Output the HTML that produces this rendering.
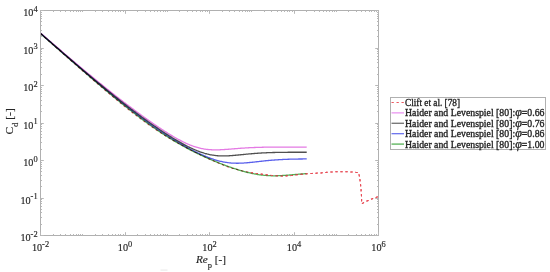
<!DOCTYPE html>
<html><head><meta charset="utf-8"><title>Drag coefficient</title>
<style>html,body{margin:0;padding:0;background:#fff;overflow:hidden}svg{display:block}</style>
</head><body>
<svg width="550" height="272" viewBox="0 0 550 272"><rect x="0" y="0" width="550" height="272" fill="#fff"/>
<polyline points="40.50,33.71 41.18,34.31 41.85,34.91 42.53,35.51 43.21,36.11 43.89,36.71 44.56,37.31 45.24,37.91 45.92,38.51 46.60,39.11 47.27,39.71 47.95,40.31 48.63,40.91 49.31,41.51 49.98,42.11 50.66,42.71 51.34,43.31 52.02,43.90 52.69,44.50 53.37,45.10 54.05,45.70 54.72,46.30 55.40,46.90 56.08,47.50 56.76,48.10 57.43,48.69 58.11,49.29 58.79,49.89 59.47,50.49 60.14,51.09 60.82,51.69 61.50,52.28 62.18,52.88 62.85,53.48 63.53,54.08 64.21,54.67 64.88,55.27 65.56,55.87 66.24,56.46 66.92,57.06 67.59,57.66 68.27,58.25 68.95,58.85 69.63,59.45 70.30,60.04 70.98,60.64 71.66,61.23 72.34,61.83 73.01,62.42 73.69,63.02 74.37,63.61 75.05,64.21 75.72,64.80 76.40,65.40 77.08,65.99 77.75,66.59 78.43,67.18 79.11,67.77 79.79,68.36 80.46,68.96 81.14,69.55 81.82,70.14 82.50,70.73 83.17,71.33 83.85,71.92 84.53,72.51 85.21,73.10 85.88,73.69 86.56,74.28 87.24,74.87 87.91,75.46 88.59,76.05 89.27,76.63 89.95,77.22 90.62,77.81 91.30,78.40 91.98,78.98 92.66,79.57 93.33,80.16 94.01,80.74 94.69,81.33 95.37,81.91 96.04,82.49 96.72,83.08 97.40,83.66 98.08,84.24 98.75,84.82 99.43,85.40 100.11,85.99 100.78,86.56 101.46,87.14 102.14,87.72 102.82,88.30 103.49,88.88 104.17,89.45 104.85,90.03 105.53,90.60 106.20,91.18 106.88,91.75 107.56,92.33 108.24,92.90 108.91,93.47 109.59,94.04 110.27,94.61 110.94,95.18 111.62,95.74 112.30,96.31 112.98,96.88 113.65,97.44 114.33,98.00 115.01,98.57 115.69,99.13 116.36,99.69 117.04,100.25 117.72,100.81 118.40,101.36 119.07,101.92 119.75,102.47 120.43,103.03 121.11,103.58 121.78,104.13 122.46,104.68 123.14,105.23 123.81,105.78 124.49,106.32 125.17,106.87 125.85,107.41 126.52,107.95 127.20,108.49 127.88,109.03 128.56,109.57 129.23,110.10 129.91,110.63 130.59,111.17 131.27,111.70 131.94,112.23 132.62,112.75 133.30,113.28 133.97,113.80 134.65,114.32 135.33,114.84 136.01,115.36 136.68,115.88 137.36,116.39 138.04,116.91 138.72,117.42 139.39,117.92 140.07,118.43 140.75,118.94 141.43,119.44 142.10,119.94 142.78,120.44 143.46,120.93 144.14,121.43 144.81,121.92 145.49,122.41 146.17,122.90 146.84,123.38 147.52,123.87 148.20,124.35 148.88,124.83 149.55,125.30 150.23,125.78 150.91,126.25 151.59,126.72 152.26,127.19 152.94,127.65 153.62,128.11 154.30,128.57 154.97,129.03 155.65,129.49 156.33,129.94 157.01,130.39 157.68,130.84 158.36,131.28 159.04,131.73 159.71,132.17 160.39,132.60 161.07,133.04 161.75,133.47 162.42,133.90 163.10,134.33 163.78,134.76 164.46,135.18 165.13,135.60 165.81,136.02 166.49,136.44 167.17,136.85 167.84,137.26 168.52,137.67 169.20,138.08 169.87,138.48 170.55,138.88 171.23,139.28 171.91,139.68 172.58,140.08 173.26,140.47 173.94,140.86 174.62,141.25 175.29,141.63 175.97,142.02 176.65,142.40 177.33,142.78 178.00,143.15 178.68,143.53 179.36,143.90 179.97,144.11 180.04,144.15 180.71,144.54 181.39,144.92 182.07,145.31 182.74,145.69 183.42,146.07 184.10,146.44 184.78,146.82 185.45,147.19 186.13,147.56 186.81,147.93 187.49,148.29 188.16,148.66 188.84,149.02 189.52,149.38 190.20,149.73 190.87,150.09 191.55,150.44 192.23,150.80 192.90,151.15 193.58,151.49 194.26,151.84 194.94,152.18 195.61,152.52 196.29,152.86 196.97,153.20 197.65,153.54 198.32,153.87 199.00,154.21 199.68,154.54 200.36,154.87 201.03,155.19 201.71,155.52 202.39,155.84 203.07,156.16 203.74,156.48 204.42,156.80 205.10,157.12 205.77,157.44 206.45,157.75 207.13,158.06 207.81,158.37 208.48,158.68 209.16,158.99 209.84,159.29 210.52,159.60 211.19,159.90 211.87,160.20 212.55,160.50 213.23,160.80 213.90,161.10 214.58,161.39 215.26,161.69 215.93,161.98 216.61,162.27 217.29,162.56 217.97,162.85 218.64,163.14 219.32,163.43 220.00,163.71 220.68,164.00 221.35,164.28 222.03,164.56 222.71,164.84 223.39,165.12 224.06,165.40 224.74,165.68 225.42,165.95 226.10,166.23 226.77,166.50 227.03,166.61 227.45,166.74 228.13,166.96 228.80,167.18 229.48,167.39 230.16,167.60 230.84,167.81 231.51,168.02 232.19,168.22 232.87,168.42 233.55,168.61 234.22,168.81 234.90,169.00 235.58,169.18 236.26,169.37 236.93,169.55 237.61,169.73 238.29,169.90 238.96,170.07 239.64,170.24 240.32,170.41 241.00,170.57 241.67,170.73 242.35,170.89 243.03,171.04 243.71,171.19 244.38,171.34 245.06,171.49 245.74,171.63 246.42,171.77 247.09,171.90 247.77,172.04 248.45,172.17 249.13,172.29 249.80,172.42 250.48,172.54 251.16,172.66 251.83,172.77 252.51,172.88 253.19,172.99 253.87,173.10 254.54,173.20 255.22,173.30 255.90,173.40 256.58,173.49 257.25,173.58 257.93,173.67 258.61,173.76 259.19,173.82 259.29,173.83 259.96,173.94 260.64,174.04 261.32,174.14 261.99,174.24 262.67,174.34 263.35,174.43 264.03,174.52 264.70,174.62 265.38,174.71 266.06,174.79 266.74,174.88 267.41,174.96 268.09,175.04 268.77,175.12 269.45,175.19 270.12,175.26 270.80,175.33 271.48,175.40 272.16,175.46 272.83,175.52 273.51,175.57 274.19,175.63 274.86,175.68 275.54,175.72 276.22,175.76 276.90,175.80 277.57,175.84 278.25,175.87 278.93,175.89 279.61,175.91 280.28,175.93 280.96,175.94 281.64,175.95 282.32,175.96 282.99,175.96 283.67,175.95 284.35,175.94 285.03,175.93 285.70,175.91 286.38,175.88 287.06,175.85 287.73,175.81 288.41,175.77 289.09,175.73 289.77,175.67 290.44,175.62 291.12,175.55 291.80,175.48 292.48,175.41 293.15,175.32 293.83,175.23 294.51,175.14 295.19,175.04 295.86,174.93 296.54,174.82 297.22,174.70 297.35,174.67 297.89,174.62 298.57,174.55 299.25,174.48 299.93,174.41 300.60,174.35 301.28,174.28 301.96,174.22 302.64,174.16 303.31,174.09 303.99,174.04 304.67,173.98 305.35,173.92 306.02,173.86 306.70,173.81 307.38,173.76 308.06,173.70 308.73,173.65 309.41,173.60 310.09,173.55 310.76,173.51 311.44,173.46 312.12,173.42 312.80,173.37 313.47,173.33 314.15,173.29 314.83,173.25 315.51,173.21 316.18,173.17 316.86,173.14 317.54,173.10 318.22,173.07 318.89,173.03 319.57,173.00 320.25,172.97 320.92,172.94 321.19,172.93 321.60,172.88 322.28,172.80 322.96,172.72 323.63,172.64 324.31,172.56 324.99,172.49 325.67,172.42 326.34,172.36 327.02,172.29 327.70,172.23 328.38,172.18 329.05,172.12 329.73,172.07 330.41,172.02 331.09,171.98 331.76,171.94 332.44,171.90 333.12,171.86 333.79,171.83 334.47,171.80 335.15,171.77 335.83,171.74 336.50,171.72 337.18,171.71 337.86,171.69 338.54,171.68 339.21,171.67 339.89,171.66 340.57,171.66 341.25,171.66 341.92,171.66 342.60,171.67 343.28,171.67 343.95,171.69 344.63,171.70 345.31,171.72 345.99,171.74 346.66,171.76 347.34,171.79 348.02,171.82 348.70,171.85 349.37,171.88 350.05,171.92 350.73,171.96 351.41,172.01 352.08,172.05 352.76,172.11 353.44,172.16 354.12,172.21 354.79,172.27 355.47,172.34 356.15,172.40 356.82,172.47 357.50,172.54 358.18,172.61 358.60,172.56 358.86,173.72 359.53,177.18 360.21,181.57 360.89,187.61 361.57,197.32 361.69,203.76 362.24,203.46 362.92,203.10 363.60,202.74 364.28,202.40 364.95,202.06 365.63,201.73 366.31,201.40 366.98,201.08 367.66,200.77 368.34,200.47 369.02,200.16 369.69,199.87 370.37,199.58 371.05,199.29 371.73,199.01 372.40,198.74 373.08,198.47 373.76,198.20 374.44,197.94 375.11,197.68 375.79,197.43 376.47,197.18 377.15,196.93 377.82,196.69 378.50,196.45" fill="none" stroke="#e84d57" stroke-width="1.05" stroke-dasharray="2.3,2.7"/>
<polyline points="40.50,33.59 41.39,34.38 42.28,35.16 43.17,35.95 44.06,36.73 44.95,37.52 45.84,38.30 46.73,39.09 47.62,39.87 48.51,40.66 49.40,41.44 50.29,42.22 51.18,43.01 52.07,43.79 52.97,44.57 53.86,45.36 54.75,46.14 55.64,46.92 56.53,47.70 57.42,48.49 58.31,49.27 59.20,50.05 60.09,50.83 60.98,51.61 61.87,52.39 62.76,53.17 63.65,53.95 64.54,54.73 65.43,55.51 66.32,56.29 67.21,57.07 68.10,57.85 68.99,58.63 69.88,59.40 70.77,60.18 71.66,60.96 72.55,61.73 73.44,62.51 74.33,63.29 75.22,64.06 76.11,64.83 77.00,65.61 77.90,66.38 78.79,67.16 79.68,67.93 80.57,68.70 81.46,69.47 82.35,70.24 83.24,71.01 84.13,71.78 85.02,72.55 85.91,73.32 86.80,74.09 87.69,74.85 88.58,75.62 89.47,76.39 90.36,77.15 91.25,77.91 92.14,78.68 93.03,79.44 93.92,80.20 94.81,80.96 95.70,81.72 96.59,82.48 97.48,83.24 98.37,84.00 99.26,84.75 100.15,85.51 101.04,86.26 101.94,87.01 102.83,87.77 103.72,88.52 104.61,89.27 105.50,90.01 106.39,90.76 107.28,91.51 108.17,92.25 109.06,93.00 109.95,93.74 110.84,94.48 111.73,95.22 112.62,95.95 113.51,96.69 114.40,97.42 115.29,98.16 116.18,98.89 117.07,99.62 117.96,100.35 118.85,101.07 119.74,101.80 120.63,102.52 121.52,103.24 122.41,103.96 123.30,104.68 124.19,105.39 125.08,106.11 125.97,106.82 126.87,107.53 127.76,108.23 128.65,108.94 129.54,109.64 130.43,110.34 131.32,111.04 132.21,111.73 133.10,112.42 133.99,113.11 134.88,113.80 135.77,114.49 136.66,115.17 137.55,115.85 138.44,116.53 139.33,117.20 140.22,117.87 141.11,118.54 142.00,119.20 142.89,119.87 143.78,120.53 144.67,121.18 145.56,121.84 146.45,122.49 147.34,123.13 148.23,123.78 149.12,124.42 150.01,125.05 150.91,125.69 151.80,126.32 152.69,126.95 153.58,127.57 154.47,128.19 155.36,128.80 156.25,129.42 157.14,130.03 158.03,130.63 158.92,131.23 159.81,131.83 160.70,132.42 161.59,133.01 162.48,133.60 163.37,134.18 164.26,134.76 165.15,135.34 166.04,135.91 166.93,136.47 167.82,137.04 168.71,137.59 169.60,138.15 170.49,138.70 171.38,139.25 172.27,139.79 173.16,140.33 174.05,140.86 174.94,141.39 175.84,141.92 176.73,142.44 177.62,142.96 178.51,143.48 179.40,143.99 180.29,144.49 181.18,145.00 182.07,145.50 182.96,145.99 183.85,146.48 184.74,146.97 185.63,147.45 186.52,147.93 187.41,148.40 188.30,148.88 189.19,149.34 190.08,149.81 190.97,150.27 191.86,150.72 192.75,151.18 193.64,151.62 194.53,152.07 195.42,152.51 196.31,152.95 197.20,153.38 198.09,153.81 198.98,154.24 199.87,154.66 200.77,155.08 201.66,155.50 202.55,155.91 203.44,156.32 204.33,156.73 205.22,157.13 206.11,157.53 207.00,157.93 207.89,158.32 208.78,158.71 209.67,159.10 210.56,159.48 211.45,159.86 212.34,160.24 213.23,160.61 214.12,160.99 215.01,161.35 215.90,161.72 216.79,162.08 217.68,162.44 218.57,162.79 219.46,163.15 220.35,163.50 221.24,163.84 222.13,164.18 223.02,164.52 223.91,164.86 224.81,165.19 225.70,165.52 226.59,165.85 227.48,166.17 228.37,166.49 229.26,166.81 230.15,167.12 231.04,167.43 231.93,167.74 232.82,168.04 233.71,168.34 234.60,168.63 235.49,168.92 236.38,169.21 237.27,169.49 238.16,169.77 239.05,170.04 239.94,170.31 240.83,170.58 241.72,170.84 242.61,171.09 243.50,171.34 244.39,171.58 245.28,171.82 246.17,172.06 247.06,172.28 247.95,172.50 248.84,172.72 249.74,172.93 250.63,173.13 251.52,173.33 252.41,173.52 253.30,173.70 254.19,173.88 255.08,174.05 255.97,174.21 256.86,174.36 257.75,174.51 258.64,174.65 259.53,174.78 260.42,174.90 261.31,175.02 262.20,175.12 263.09,175.22 263.98,175.31 264.87,175.40 265.76,175.47 266.65,175.54 267.54,175.60 268.43,175.65 269.32,175.69 270.21,175.72 271.10,175.75 271.99,175.77 272.88,175.78 273.78,175.79 274.67,175.79 275.56,175.78 276.45,175.76 277.34,175.74 278.23,175.72 279.12,175.68 280.01,175.65 280.90,175.60 281.79,175.56 282.68,175.50 283.57,175.45 284.46,175.39 285.35,175.33 286.24,175.26 287.13,175.19 288.02,175.12 288.91,175.05 289.80,174.98 290.69,174.90 291.58,174.82 292.47,174.75 293.36,174.67 294.25,174.59 295.14,174.51 296.03,174.44 296.92,174.36 297.81,174.28 298.71,174.21 299.60,174.13 300.49,174.06 301.38,173.99 302.27,173.92 303.16,173.85 304.05,173.78 304.94,173.72 305.83,173.66 306.72,173.60" fill="none" stroke="#55b055" stroke-width="1.3" style="mix-blend-mode:multiply"/>
<polyline points="40.50,32.95 41.39,33.73 42.28,34.50 43.17,35.27 44.06,36.04 44.95,36.81 45.84,37.58 46.73,38.35 47.62,39.12 48.51,39.89 49.40,40.66 50.29,41.43 51.18,42.20 52.07,42.97 52.97,43.73 53.86,44.50 54.75,45.27 55.64,46.03 56.53,46.80 57.42,47.56 58.31,48.33 59.20,49.09 60.09,49.85 60.98,50.61 61.87,51.38 62.76,52.14 63.65,52.90 64.54,53.66 65.43,54.42 66.32,55.18 67.21,55.93 68.10,56.69 68.99,57.45 69.88,58.20 70.77,58.96 71.66,59.71 72.55,60.47 73.44,61.22 74.33,61.97 75.22,62.72 76.11,63.48 77.00,64.23 77.90,64.97 78.79,65.72 79.68,66.47 80.57,67.22 81.46,67.96 82.35,68.71 83.24,69.45 84.13,70.19 85.02,70.94 85.91,71.68 86.80,72.42 87.69,73.16 88.58,73.90 89.47,74.63 90.36,75.37 91.25,76.10 92.14,76.84 93.03,77.57 93.92,78.30 94.81,79.03 95.70,79.76 96.59,80.49 97.48,81.22 98.37,81.94 99.26,82.67 100.15,83.39 101.04,84.12 101.94,84.84 102.83,85.56 103.72,86.28 104.61,86.99 105.50,87.71 106.39,88.42 107.28,89.14 108.17,89.85 109.06,90.56 109.95,91.27 110.84,91.98 111.73,92.68 112.62,93.39 113.51,94.09 114.40,94.79 115.29,95.49 116.18,96.19 117.07,96.89 117.96,97.58 118.85,98.28 119.74,98.97 120.63,99.66 121.52,100.35 122.41,101.04 123.30,101.72 124.19,102.40 125.08,103.09 125.97,103.77 126.87,104.45 127.76,105.12 128.65,105.80 129.54,106.47 130.43,107.14 131.32,107.81 132.21,108.48 133.10,109.14 133.99,109.81 134.88,110.47 135.77,111.13 136.66,111.78 137.55,112.44 138.44,113.09 139.33,113.74 140.22,114.39 141.11,115.04 142.00,115.68 142.89,116.32 143.78,116.96 144.67,117.60 145.56,118.24 146.45,118.87 147.34,119.50 148.23,120.13 149.12,120.76 150.01,121.38 150.91,122.00 151.80,122.62 152.69,123.23 153.58,123.84 154.47,124.45 155.36,125.06 156.25,125.66 157.14,126.26 158.03,126.86 158.92,127.46 159.81,128.05 160.70,128.64 161.59,129.22 162.48,129.80 163.37,130.38 164.26,130.95 165.15,131.52 166.04,132.08 166.93,132.65 167.82,133.20 168.71,133.75 169.60,134.30 170.49,134.84 171.38,135.38 172.27,135.91 173.16,136.44 174.05,136.96 174.94,137.47 175.84,137.98 176.73,138.48 177.62,138.98 178.51,139.46 179.40,139.94 180.29,140.41 181.18,140.88 182.07,141.33 182.96,141.78 183.85,142.22 184.74,142.65 185.63,143.06 186.52,143.47 187.41,143.87 188.30,144.26 189.19,144.63 190.08,145.00 190.97,145.35 191.86,145.69 192.75,146.01 193.64,146.33 194.53,146.63 195.42,146.92 196.31,147.19 197.20,147.45 198.09,147.70 198.98,147.93 199.87,148.15 200.77,148.36 201.66,148.55 202.55,148.73 203.44,148.89 204.33,149.04 205.22,149.18 206.11,149.30 207.00,149.41 207.89,149.50 208.78,149.59 209.67,149.66 210.56,149.72 211.45,149.77 212.34,149.81 213.23,149.83 214.12,149.85 215.01,149.86 215.90,149.86 216.79,149.85 217.68,149.84 218.57,149.81 219.46,149.78 220.35,149.75 221.24,149.71 222.13,149.66 223.02,149.61 223.91,149.56 224.81,149.50 225.70,149.44 226.59,149.37 227.48,149.31 228.37,149.24 229.26,149.17 230.15,149.10 231.04,149.03 231.93,148.96 232.82,148.88 233.71,148.81 234.60,148.74 235.49,148.67 236.38,148.60 237.27,148.53 238.16,148.46 239.05,148.40 239.94,148.33 240.83,148.27 241.72,148.21 242.61,148.15 243.50,148.09 244.39,148.03 245.28,147.97 246.17,147.92 247.06,147.87 247.95,147.82 248.84,147.77 249.74,147.72 250.63,147.68 251.52,147.64 252.41,147.60 253.30,147.56 254.19,147.52 255.08,147.49 255.97,147.45 256.86,147.42 257.75,147.39 258.64,147.36 259.53,147.34 260.42,147.31 261.31,147.29 262.20,147.27 263.09,147.24 263.98,147.22 264.87,147.21 265.76,147.19 266.65,147.17 267.54,147.16 268.43,147.14 269.32,147.13 270.21,147.12 271.10,147.11 271.99,147.10 272.88,147.09 273.78,147.08 274.67,147.07 275.56,147.07 276.45,147.06 277.34,147.05 278.23,147.05 279.12,147.04 280.01,147.04 280.90,147.04 281.79,147.03 282.68,147.03 283.57,147.03 284.46,147.03 285.35,147.03 286.24,147.03 287.13,147.03 288.02,147.03 288.91,147.03 289.80,147.03 290.69,147.03 291.58,147.03 292.47,147.03 293.36,147.03 294.25,147.04 295.14,147.04 296.03,147.04 296.92,147.04 297.81,147.05 298.71,147.05 299.60,147.05 300.49,147.05 301.38,147.06 302.27,147.06 303.16,147.06 304.05,147.07 304.94,147.07 305.83,147.07 306.72,147.08" fill="none" stroke="#e47ae4" stroke-width="1.3" style="mix-blend-mode:multiply"/>
<polyline points="40.50,33.46 41.39,34.25 42.28,35.03 43.17,35.81 44.06,36.59 44.95,37.37 45.84,38.16 46.73,38.94 47.62,39.72 48.51,40.50 49.40,41.28 50.29,42.06 51.18,42.84 52.07,43.62 52.97,44.40 53.86,45.18 54.75,45.95 55.64,46.73 56.53,47.51 57.42,48.29 58.31,49.06 59.20,49.84 60.09,50.62 60.98,51.39 61.87,52.17 62.76,52.95 63.65,53.72 64.54,54.49 65.43,55.27 66.32,56.04 67.21,56.82 68.10,57.59 68.99,58.36 69.88,59.13 70.77,59.90 71.66,60.67 72.55,61.44 73.44,62.21 74.33,62.98 75.22,63.75 76.11,64.52 77.00,65.29 77.90,66.05 78.79,66.82 79.68,67.58 80.57,68.35 81.46,69.11 82.35,69.88 83.24,70.64 84.13,71.40 85.02,72.16 85.91,72.92 86.80,73.68 87.69,74.44 88.58,75.20 89.47,75.96 90.36,76.71 91.25,77.47 92.14,78.22 93.03,78.97 93.92,79.73 94.81,80.48 95.70,81.23 96.59,81.98 97.48,82.73 98.37,83.47 99.26,84.22 100.15,84.97 101.04,85.71 101.94,86.45 102.83,87.20 103.72,87.94 104.61,88.67 105.50,89.41 106.39,90.15 107.28,90.88 108.17,91.62 109.06,92.35 109.95,93.08 110.84,93.81 111.73,94.54 112.62,95.27 113.51,95.99 114.40,96.72 115.29,97.44 116.18,98.16 117.07,98.88 117.96,99.59 118.85,100.31 119.74,101.02 120.63,101.73 121.52,102.44 122.41,103.15 123.30,103.86 124.19,104.56 125.08,105.26 125.97,105.96 126.87,106.66 127.76,107.36 128.65,108.05 129.54,108.74 130.43,109.43 131.32,110.12 132.21,110.81 133.10,111.49 133.99,112.17 134.88,112.85 135.77,113.52 136.66,114.20 137.55,114.87 138.44,115.54 139.33,116.20 140.22,116.87 141.11,117.53 142.00,118.18 142.89,118.84 143.78,119.49 144.67,120.14 145.56,120.79 146.45,121.43 147.34,122.08 148.23,122.72 149.12,123.35 150.01,123.98 150.91,124.61 151.80,125.24 152.69,125.87 153.58,126.49 154.47,127.11 155.36,127.72 156.25,128.33 157.14,128.94 158.03,129.55 158.92,130.15 159.81,130.75 160.70,131.35 161.59,131.94 162.48,132.53 163.37,133.11 164.26,133.70 165.15,134.28 166.04,134.85 166.93,135.43 167.82,135.99 168.71,136.56 169.60,137.12 170.49,137.68 171.38,138.24 172.27,138.79 173.16,139.34 174.05,139.88 174.94,140.42 175.84,140.96 176.73,141.49 177.62,142.02 178.51,142.55 179.40,143.07 180.29,143.59 181.18,144.10 182.07,144.61 182.96,145.12 183.85,145.62 184.74,146.12 185.63,146.61 186.52,147.10 187.41,147.59 188.30,148.07 189.19,148.55 190.08,149.02 190.97,149.48 191.86,149.95 192.75,150.40 193.64,150.86 194.53,151.30 195.42,151.75 196.31,152.18 197.20,152.61 198.09,153.04 198.98,153.46 199.87,153.87 200.77,154.28 201.66,154.68 202.55,155.08 203.44,155.47 204.33,155.85 205.22,156.22 206.11,156.59 207.00,156.95 207.89,157.30 208.78,157.64 209.67,157.98 210.56,158.31 211.45,158.62 212.34,158.93 213.23,159.23 214.12,159.52 215.01,159.81 215.90,160.08 216.79,160.34 217.68,160.59 218.57,160.83 219.46,161.06 220.35,161.27 221.24,161.48 222.13,161.67 223.02,161.86 223.91,162.03 224.81,162.19 225.70,162.34 226.59,162.48 227.48,162.60 228.37,162.72 229.26,162.82 230.15,162.91 231.04,162.99 231.93,163.05 232.82,163.11 233.71,163.16 234.60,163.19 235.49,163.21 236.38,163.23 237.27,163.23 238.16,163.23 239.05,163.21 239.94,163.19 240.83,163.16 241.72,163.12 242.61,163.08 243.50,163.03 244.39,162.97 245.28,162.90 246.17,162.83 247.06,162.76 247.95,162.68 248.84,162.59 249.74,162.51 250.63,162.42 251.52,162.32 252.41,162.23 253.30,162.13 254.19,162.03 255.08,161.93 255.97,161.83 256.86,161.73 257.75,161.63 258.64,161.53 259.53,161.43 260.42,161.33 261.31,161.23 262.20,161.13 263.09,161.04 263.98,160.94 264.87,160.85 265.76,160.76 266.65,160.67 267.54,160.58 268.43,160.50 269.32,160.42 270.21,160.34 271.10,160.26 271.99,160.19 272.88,160.12 273.78,160.05 274.67,159.98 275.56,159.91 276.45,159.85 277.34,159.79 278.23,159.74 279.12,159.68 280.01,159.63 280.90,159.58 281.79,159.53 282.68,159.49 283.57,159.45 284.46,159.41 285.35,159.37 286.24,159.33 287.13,159.30 288.02,159.27 288.91,159.24 289.80,159.21 290.69,159.18 291.58,159.16 292.47,159.13 293.36,159.11 294.25,159.09 295.14,159.08 296.03,159.06 296.92,159.04 297.81,159.03 298.71,159.02 299.60,159.00 300.49,158.99 301.38,158.99 302.27,158.98 303.16,158.97 304.05,158.96 304.94,158.96 305.83,158.95 306.72,158.95" fill="none" stroke="#5a60ec" stroke-width="1.3" style="mix-blend-mode:multiply"/>
<polyline points="40.50,33.28 41.39,34.06 42.28,34.84 43.17,35.62 44.06,36.40 44.95,37.17 45.84,37.95 46.73,38.73 47.62,39.51 48.51,40.28 49.40,41.06 50.29,41.83 51.18,42.61 52.07,43.38 52.97,44.16 53.86,44.93 54.75,45.71 55.64,46.48 56.53,47.25 57.42,48.02 58.31,48.80 59.20,49.57 60.09,50.34 60.98,51.11 61.87,51.88 62.76,52.65 63.65,53.42 64.54,54.19 65.43,54.95 66.32,55.72 67.21,56.49 68.10,57.26 68.99,58.02 69.88,58.79 70.77,59.55 71.66,60.32 72.55,61.08 73.44,61.84 74.33,62.60 75.22,63.37 76.11,64.13 77.00,64.89 77.90,65.65 78.79,66.40 79.68,67.16 80.57,67.92 81.46,68.68 82.35,69.43 83.24,70.19 84.13,70.94 85.02,71.69 85.91,72.45 86.80,73.20 87.69,73.95 88.58,74.70 89.47,75.45 90.36,76.19 91.25,76.94 92.14,77.69 93.03,78.43 93.92,79.18 94.81,79.92 95.70,80.66 96.59,81.40 97.48,82.14 98.37,82.88 99.26,83.62 100.15,84.35 101.04,85.09 101.94,85.82 102.83,86.55 103.72,87.28 104.61,88.01 105.50,88.74 106.39,89.47 107.28,90.19 108.17,90.92 109.06,91.64 109.95,92.36 110.84,93.08 111.73,93.80 112.62,94.52 113.51,95.23 114.40,95.95 115.29,96.66 116.18,97.37 117.07,98.08 117.96,98.79 118.85,99.49 119.74,100.20 120.63,100.90 121.52,101.60 122.41,102.30 123.30,103.00 124.19,103.69 125.08,104.38 125.97,105.08 126.87,105.76 127.76,106.45 128.65,107.14 129.54,107.82 130.43,108.50 131.32,109.18 132.21,109.86 133.10,110.53 133.99,111.21 134.88,111.88 135.77,112.55 136.66,113.21 137.55,113.88 138.44,114.54 139.33,115.20 140.22,115.86 141.11,116.51 142.00,117.16 142.89,117.81 143.78,118.46 144.67,119.11 145.56,119.75 146.45,120.39 147.34,121.03 148.23,121.66 149.12,122.29 150.01,122.92 150.91,123.55 151.80,124.18 152.69,124.80 153.58,125.42 154.47,126.03 155.36,126.65 156.25,127.26 157.14,127.86 158.03,128.47 158.92,129.07 159.81,129.67 160.70,130.26 161.59,130.85 162.48,131.44 163.37,132.03 164.26,132.61 165.15,133.19 166.04,133.76 166.93,134.34 167.82,134.90 168.71,135.47 169.60,136.03 170.49,136.59 171.38,137.14 172.27,137.69 173.16,138.23 174.05,138.77 174.94,139.31 175.84,139.84 176.73,140.37 177.62,140.89 178.51,141.41 179.40,141.92 180.29,142.43 181.18,142.93 182.07,143.42 182.96,143.91 183.85,144.40 184.74,144.87 185.63,145.34 186.52,145.81 187.41,146.27 188.30,146.72 189.19,147.16 190.08,147.59 190.97,148.02 191.86,148.44 192.75,148.85 193.64,149.25 194.53,149.64 195.42,150.02 196.31,150.40 197.20,150.76 198.09,151.11 198.98,151.45 199.87,151.78 200.77,152.10 201.66,152.41 202.55,152.70 203.44,152.98 204.33,153.25 205.22,153.51 206.11,153.75 207.00,153.99 207.89,154.20 208.78,154.41 209.67,154.60 210.56,154.78 211.45,154.94 212.34,155.10 213.23,155.23 214.12,155.36 215.01,155.47 215.90,155.57 216.79,155.66 217.68,155.73 218.57,155.80 219.46,155.85 220.35,155.89 221.24,155.91 222.13,155.93 223.02,155.94 223.91,155.94 224.81,155.93 225.70,155.91 226.59,155.88 227.48,155.84 228.37,155.80 229.26,155.75 230.15,155.70 231.04,155.64 231.93,155.57 232.82,155.50 233.71,155.43 234.60,155.35 235.49,155.27 236.38,155.19 237.27,155.11 238.16,155.02 239.05,154.93 239.94,154.84 240.83,154.76 241.72,154.67 242.61,154.58 243.50,154.49 244.39,154.40 245.28,154.31 246.17,154.22 247.06,154.14 247.95,154.05 248.84,153.97 249.74,153.89 250.63,153.81 251.52,153.73 252.41,153.66 253.30,153.58 254.19,153.51 255.08,153.44 255.97,153.38 256.86,153.31 257.75,153.25 258.64,153.19 259.53,153.13 260.42,153.08 261.31,153.02 262.20,152.97 263.09,152.93 263.98,152.88 264.87,152.83 265.76,152.79 266.65,152.75 267.54,152.71 268.43,152.68 269.32,152.64 270.21,152.61 271.10,152.58 271.99,152.55 272.88,152.52 273.78,152.50 274.67,152.48 275.56,152.45 276.45,152.43 277.34,152.41 278.23,152.39 279.12,152.38 280.01,152.36 280.90,152.35 281.79,152.33 282.68,152.32 283.57,152.31 284.46,152.30 285.35,152.29 286.24,152.28 287.13,152.28 288.02,152.27 288.91,152.26 289.80,152.26 290.69,152.25 291.58,152.25 292.47,152.25 293.36,152.24 294.25,152.24 295.14,152.24 296.03,152.24 296.92,152.24 297.81,152.24 298.71,152.24 299.60,152.24 300.49,152.24 301.38,152.24 302.27,152.24 303.16,152.25 304.05,152.25 304.94,152.25 305.83,152.25 306.72,152.26" fill="none" stroke="#505050" stroke-width="1.3" style="mix-blend-mode:multiply"/>
<clipPath id="cr"><rect x="250" y="0" width="200" height="272"/></clipPath>
<g clip-path="url(#cr)"><polyline points="40.50,33.71 41.18,34.31 41.85,34.91 42.53,35.51 43.21,36.11 43.89,36.71 44.56,37.31 45.24,37.91 45.92,38.51 46.60,39.11 47.27,39.71 47.95,40.31 48.63,40.91 49.31,41.51 49.98,42.11 50.66,42.71 51.34,43.31 52.02,43.90 52.69,44.50 53.37,45.10 54.05,45.70 54.72,46.30 55.40,46.90 56.08,47.50 56.76,48.10 57.43,48.69 58.11,49.29 58.79,49.89 59.47,50.49 60.14,51.09 60.82,51.69 61.50,52.28 62.18,52.88 62.85,53.48 63.53,54.08 64.21,54.67 64.88,55.27 65.56,55.87 66.24,56.46 66.92,57.06 67.59,57.66 68.27,58.25 68.95,58.85 69.63,59.45 70.30,60.04 70.98,60.64 71.66,61.23 72.34,61.83 73.01,62.42 73.69,63.02 74.37,63.61 75.05,64.21 75.72,64.80 76.40,65.40 77.08,65.99 77.75,66.59 78.43,67.18 79.11,67.77 79.79,68.36 80.46,68.96 81.14,69.55 81.82,70.14 82.50,70.73 83.17,71.33 83.85,71.92 84.53,72.51 85.21,73.10 85.88,73.69 86.56,74.28 87.24,74.87 87.91,75.46 88.59,76.05 89.27,76.63 89.95,77.22 90.62,77.81 91.30,78.40 91.98,78.98 92.66,79.57 93.33,80.16 94.01,80.74 94.69,81.33 95.37,81.91 96.04,82.49 96.72,83.08 97.40,83.66 98.08,84.24 98.75,84.82 99.43,85.40 100.11,85.99 100.78,86.56 101.46,87.14 102.14,87.72 102.82,88.30 103.49,88.88 104.17,89.45 104.85,90.03 105.53,90.60 106.20,91.18 106.88,91.75 107.56,92.33 108.24,92.90 108.91,93.47 109.59,94.04 110.27,94.61 110.94,95.18 111.62,95.74 112.30,96.31 112.98,96.88 113.65,97.44 114.33,98.00 115.01,98.57 115.69,99.13 116.36,99.69 117.04,100.25 117.72,100.81 118.40,101.36 119.07,101.92 119.75,102.47 120.43,103.03 121.11,103.58 121.78,104.13 122.46,104.68 123.14,105.23 123.81,105.78 124.49,106.32 125.17,106.87 125.85,107.41 126.52,107.95 127.20,108.49 127.88,109.03 128.56,109.57 129.23,110.10 129.91,110.63 130.59,111.17 131.27,111.70 131.94,112.23 132.62,112.75 133.30,113.28 133.97,113.80 134.65,114.32 135.33,114.84 136.01,115.36 136.68,115.88 137.36,116.39 138.04,116.91 138.72,117.42 139.39,117.92 140.07,118.43 140.75,118.94 141.43,119.44 142.10,119.94 142.78,120.44 143.46,120.93 144.14,121.43 144.81,121.92 145.49,122.41 146.17,122.90 146.84,123.38 147.52,123.87 148.20,124.35 148.88,124.83 149.55,125.30 150.23,125.78 150.91,126.25 151.59,126.72 152.26,127.19 152.94,127.65 153.62,128.11 154.30,128.57 154.97,129.03 155.65,129.49 156.33,129.94 157.01,130.39 157.68,130.84 158.36,131.28 159.04,131.73 159.71,132.17 160.39,132.60 161.07,133.04 161.75,133.47 162.42,133.90 163.10,134.33 163.78,134.76 164.46,135.18 165.13,135.60 165.81,136.02 166.49,136.44 167.17,136.85 167.84,137.26 168.52,137.67 169.20,138.08 169.87,138.48 170.55,138.88 171.23,139.28 171.91,139.68 172.58,140.08 173.26,140.47 173.94,140.86 174.62,141.25 175.29,141.63 175.97,142.02 176.65,142.40 177.33,142.78 178.00,143.15 178.68,143.53 179.36,143.90 179.97,144.11 180.04,144.15 180.71,144.54 181.39,144.92 182.07,145.31 182.74,145.69 183.42,146.07 184.10,146.44 184.78,146.82 185.45,147.19 186.13,147.56 186.81,147.93 187.49,148.29 188.16,148.66 188.84,149.02 189.52,149.38 190.20,149.73 190.87,150.09 191.55,150.44 192.23,150.80 192.90,151.15 193.58,151.49 194.26,151.84 194.94,152.18 195.61,152.52 196.29,152.86 196.97,153.20 197.65,153.54 198.32,153.87 199.00,154.21 199.68,154.54 200.36,154.87 201.03,155.19 201.71,155.52 202.39,155.84 203.07,156.16 203.74,156.48 204.42,156.80 205.10,157.12 205.77,157.44 206.45,157.75 207.13,158.06 207.81,158.37 208.48,158.68 209.16,158.99 209.84,159.29 210.52,159.60 211.19,159.90 211.87,160.20 212.55,160.50 213.23,160.80 213.90,161.10 214.58,161.39 215.26,161.69 215.93,161.98 216.61,162.27 217.29,162.56 217.97,162.85 218.64,163.14 219.32,163.43 220.00,163.71 220.68,164.00 221.35,164.28 222.03,164.56 222.71,164.84 223.39,165.12 224.06,165.40 224.74,165.68 225.42,165.95 226.10,166.23 226.77,166.50 227.03,166.61 227.45,166.74 228.13,166.96 228.80,167.18 229.48,167.39 230.16,167.60 230.84,167.81 231.51,168.02 232.19,168.22 232.87,168.42 233.55,168.61 234.22,168.81 234.90,169.00 235.58,169.18 236.26,169.37 236.93,169.55 237.61,169.73 238.29,169.90 238.96,170.07 239.64,170.24 240.32,170.41 241.00,170.57 241.67,170.73 242.35,170.89 243.03,171.04 243.71,171.19 244.38,171.34 245.06,171.49 245.74,171.63 246.42,171.77 247.09,171.90 247.77,172.04 248.45,172.17 249.13,172.29 249.80,172.42 250.48,172.54 251.16,172.66 251.83,172.77 252.51,172.88 253.19,172.99 253.87,173.10 254.54,173.20 255.22,173.30 255.90,173.40 256.58,173.49 257.25,173.58 257.93,173.67 258.61,173.76 259.19,173.82 259.29,173.83 259.96,173.94 260.64,174.04 261.32,174.14 261.99,174.24 262.67,174.34 263.35,174.43 264.03,174.52 264.70,174.62 265.38,174.71 266.06,174.79 266.74,174.88 267.41,174.96 268.09,175.04 268.77,175.12 269.45,175.19 270.12,175.26 270.80,175.33 271.48,175.40 272.16,175.46 272.83,175.52 273.51,175.57 274.19,175.63 274.86,175.68 275.54,175.72 276.22,175.76 276.90,175.80 277.57,175.84 278.25,175.87 278.93,175.89 279.61,175.91 280.28,175.93 280.96,175.94 281.64,175.95 282.32,175.96 282.99,175.96 283.67,175.95 284.35,175.94 285.03,175.93 285.70,175.91 286.38,175.88 287.06,175.85 287.73,175.81 288.41,175.77 289.09,175.73 289.77,175.67 290.44,175.62 291.12,175.55 291.80,175.48 292.48,175.41 293.15,175.32 293.83,175.23 294.51,175.14 295.19,175.04 295.86,174.93 296.54,174.82 297.22,174.70 297.35,174.67 297.89,174.62 298.57,174.55 299.25,174.48 299.93,174.41 300.60,174.35 301.28,174.28 301.96,174.22 302.64,174.16 303.31,174.09 303.99,174.04 304.67,173.98 305.35,173.92 306.02,173.86 306.70,173.81 307.38,173.76 308.06,173.70 308.73,173.65 309.41,173.60 310.09,173.55 310.76,173.51 311.44,173.46 312.12,173.42 312.80,173.37 313.47,173.33 314.15,173.29 314.83,173.25 315.51,173.21 316.18,173.17 316.86,173.14 317.54,173.10 318.22,173.07 318.89,173.03 319.57,173.00 320.25,172.97 320.92,172.94 321.19,172.93 321.60,172.88 322.28,172.80 322.96,172.72 323.63,172.64 324.31,172.56 324.99,172.49 325.67,172.42 326.34,172.36 327.02,172.29 327.70,172.23 328.38,172.18 329.05,172.12 329.73,172.07 330.41,172.02 331.09,171.98 331.76,171.94 332.44,171.90 333.12,171.86 333.79,171.83 334.47,171.80 335.15,171.77 335.83,171.74 336.50,171.72 337.18,171.71 337.86,171.69 338.54,171.68 339.21,171.67 339.89,171.66 340.57,171.66 341.25,171.66 341.92,171.66 342.60,171.67 343.28,171.67 343.95,171.69 344.63,171.70 345.31,171.72 345.99,171.74 346.66,171.76 347.34,171.79 348.02,171.82 348.70,171.85 349.37,171.88 350.05,171.92 350.73,171.96 351.41,172.01 352.08,172.05 352.76,172.11 353.44,172.16 354.12,172.21 354.79,172.27 355.47,172.34 356.15,172.40 356.82,172.47 357.50,172.54 358.18,172.61 358.60,172.56 358.86,173.72 359.53,177.18 360.21,181.57 360.89,187.61 361.57,197.32 361.69,203.76 362.24,203.46 362.92,203.10 363.60,202.74 364.28,202.40 364.95,202.06 365.63,201.73 366.31,201.40 366.98,201.08 367.66,200.77 368.34,200.47 369.02,200.16 369.69,199.87 370.37,199.58 371.05,199.29 371.73,199.01 372.40,198.74 373.08,198.47 373.76,198.20 374.44,197.94 375.11,197.68 375.79,197.43 376.47,197.18 377.15,196.93 377.82,196.69 378.50,196.45" fill="none" stroke="#e84d57" stroke-width="1.05" stroke-dasharray="2.3,2.7"/></g>
<rect x="40.5" y="10.5" width="338.0" height="225.0" fill="none" stroke="#b0b0b0" stroke-width="1"/>
<path d="M40.50,235.5v-3.3M40.50,10.5v3.3M53.50,235.5v-1.5M53.50,10.5v1.5M60.50,235.5v-1.5M60.50,10.5v1.5M65.50,235.5v-1.5M65.50,10.5v1.5M70.50,235.5v-1.5M70.50,10.5v1.5M73.50,235.5v-1.5M73.50,10.5v1.5M76.50,235.5v-1.5M76.50,10.5v1.5M78.50,235.5v-1.5M78.50,10.5v1.5M80.50,235.5v-1.5M80.50,10.5v1.5M82.50,235.5v-1.5M82.50,10.5v1.5M95.50,235.5v-1.5M95.50,10.5v1.5M102.50,235.5v-1.5M102.50,10.5v1.5M108.50,235.5v-1.5M108.50,10.5v1.5M112.50,235.5v-1.5M112.50,10.5v1.5M115.50,235.5v-1.5M115.50,10.5v1.5M118.50,235.5v-1.5M118.50,10.5v1.5M120.50,235.5v-1.5M120.50,10.5v1.5M123.50,235.5v-1.5M123.50,10.5v1.5M125.50,235.5v-3.3M125.50,10.5v3.3M137.50,235.5v-1.5M137.50,10.5v1.5M145.50,235.5v-1.5M145.50,10.5v1.5M150.50,235.5v-1.5M150.50,10.5v1.5M154.50,235.5v-1.5M154.50,10.5v1.5M157.50,235.5v-1.5M157.50,10.5v1.5M160.50,235.5v-1.5M160.50,10.5v1.5M163.50,235.5v-1.5M163.50,10.5v1.5M165.50,235.5v-1.5M165.50,10.5v1.5M167.50,235.5v-1.5M167.50,10.5v1.5M179.50,235.5v-1.5M179.50,10.5v1.5M187.50,235.5v-1.5M187.50,10.5v1.5M192.50,235.5v-1.5M192.50,10.5v1.5M196.50,235.5v-1.5M196.50,10.5v1.5M200.50,235.5v-1.5M200.50,10.5v1.5M202.50,235.5v-1.5M202.50,10.5v1.5M205.50,235.5v-1.5M205.50,10.5v1.5M207.50,235.5v-1.5M207.50,10.5v1.5M209.50,235.5v-3.3M209.50,10.5v3.3M222.50,235.5v-1.5M222.50,10.5v1.5M229.50,235.5v-1.5M229.50,10.5v1.5M234.50,235.5v-1.5M234.50,10.5v1.5M239.50,235.5v-1.5M239.50,10.5v1.5M242.50,235.5v-1.5M242.50,10.5v1.5M245.50,235.5v-1.5M245.50,10.5v1.5M247.50,235.5v-1.5M247.50,10.5v1.5M249.50,235.5v-1.5M249.50,10.5v1.5M251.50,235.5v-1.5M251.50,10.5v1.5M264.50,235.5v-1.5M264.50,10.5v1.5M271.50,235.5v-1.5M271.50,10.5v1.5M277.50,235.5v-1.5M277.50,10.5v1.5M281.50,235.5v-1.5M281.50,10.5v1.5M284.50,235.5v-1.5M284.50,10.5v1.5M287.50,235.5v-1.5M287.50,10.5v1.5M289.50,235.5v-1.5M289.50,10.5v1.5M292.50,235.5v-1.5M292.50,10.5v1.5M294.50,235.5v-3.3M294.50,10.5v3.3M306.50,235.5v-1.5M306.50,10.5v1.5M314.50,235.5v-1.5M314.50,10.5v1.5M319.50,235.5v-1.5M319.50,10.5v1.5M323.50,235.5v-1.5M323.50,10.5v1.5M326.50,235.5v-1.5M326.50,10.5v1.5M329.50,235.5v-1.5M329.50,10.5v1.5M332.50,235.5v-1.5M332.50,10.5v1.5M334.50,235.5v-1.5M334.50,10.5v1.5M336.50,235.5v-1.5M336.50,10.5v1.5M348.50,235.5v-1.5M348.50,10.5v1.5M356.50,235.5v-1.5M356.50,10.5v1.5M361.50,235.5v-1.5M361.50,10.5v1.5M365.50,235.5v-1.5M365.50,10.5v1.5M369.50,235.5v-1.5M369.50,10.5v1.5M371.50,235.5v-1.5M371.50,10.5v1.5M374.50,235.5v-1.5M374.50,10.5v1.5M376.50,235.5v-1.5M376.50,10.5v1.5M378.50,235.5v-3.3M378.50,10.5v3.3M40.5,235.50h3.3M378.5,235.50h-3.3M40.5,224.50h1.5M378.5,224.50h-1.5M40.5,217.50h1.5M378.5,217.50h-1.5M40.5,212.50h1.5M378.5,212.50h-1.5M40.5,209.50h1.5M378.5,209.50h-1.5M40.5,206.50h1.5M378.5,206.50h-1.5M40.5,203.50h1.5M378.5,203.50h-1.5M40.5,201.50h1.5M378.5,201.50h-1.5M40.5,199.50h1.5M378.5,199.50h-1.5M40.5,198.50h3.3M378.5,198.50h-3.3M40.5,186.50h1.5M378.5,186.50h-1.5M40.5,180.50h1.5M378.5,180.50h-1.5M40.5,175.50h1.5M378.5,175.50h-1.5M40.5,171.50h1.5M378.5,171.50h-1.5M40.5,168.50h1.5M378.5,168.50h-1.5M40.5,166.50h1.5M378.5,166.50h-1.5M40.5,164.50h1.5M378.5,164.50h-1.5M40.5,162.50h1.5M378.5,162.50h-1.5M40.5,160.50h3.3M378.5,160.50h-3.3M40.5,149.50h1.5M378.5,149.50h-1.5M40.5,142.50h1.5M378.5,142.50h-1.5M40.5,137.50h1.5M378.5,137.50h-1.5M40.5,134.50h1.5M378.5,134.50h-1.5M40.5,131.50h1.5M378.5,131.50h-1.5M40.5,128.50h1.5M378.5,128.50h-1.5M40.5,126.50h1.5M378.5,126.50h-1.5M40.5,124.50h1.5M378.5,124.50h-1.5M40.5,123.50h3.3M378.5,123.50h-3.3M40.5,111.50h1.5M378.5,111.50h-1.5M40.5,105.50h1.5M378.5,105.50h-1.5M40.5,100.50h1.5M378.5,100.50h-1.5M40.5,96.50h1.5M378.5,96.50h-1.5M40.5,93.50h1.5M378.5,93.50h-1.5M40.5,91.50h1.5M378.5,91.50h-1.5M40.5,89.50h1.5M378.5,89.50h-1.5M40.5,87.50h1.5M378.5,87.50h-1.5M40.5,85.50h3.3M378.5,85.50h-3.3M40.5,74.50h1.5M378.5,74.50h-1.5M40.5,67.50h1.5M378.5,67.50h-1.5M40.5,62.50h1.5M378.5,62.50h-1.5M40.5,59.50h1.5M378.5,59.50h-1.5M40.5,56.50h1.5M378.5,56.50h-1.5M40.5,53.50h1.5M378.5,53.50h-1.5M40.5,51.50h1.5M378.5,51.50h-1.5M40.5,49.50h1.5M378.5,49.50h-1.5M40.5,48.50h3.3M378.5,48.50h-3.3M40.5,36.50h1.5M378.5,36.50h-1.5M40.5,30.50h1.5M378.5,30.50h-1.5M40.5,25.50h1.5M378.5,25.50h-1.5M40.5,21.50h1.5M378.5,21.50h-1.5M40.5,18.50h1.5M378.5,18.50h-1.5M40.5,16.50h1.5M378.5,16.50h-1.5M40.5,14.50h1.5M378.5,14.50h-1.5M40.5,12.50h1.5M378.5,12.50h-1.5M40.5,10.50h3.3M378.5,10.50h-3.3" stroke="#b8b8b8" stroke-width="1" fill="none"/>
<text x="40.50" y="251.1" font-family="Liberation Serif, serif" stroke="#2a2a2a" stroke-width="0.16" font-size="10.2" fill="#262626" text-anchor="middle">10<tspan font-size="8.4" dy="-4.3">-2</tspan></text>
<text x="125.00" y="251.1" font-family="Liberation Serif, serif" stroke="#2a2a2a" stroke-width="0.16" font-size="10.2" fill="#262626" text-anchor="middle">10<tspan font-size="8.4" dy="-4.3">0</tspan></text>
<text x="209.50" y="251.1" font-family="Liberation Serif, serif" stroke="#2a2a2a" stroke-width="0.16" font-size="10.2" fill="#262626" text-anchor="middle">10<tspan font-size="8.4" dy="-4.3">2</tspan></text>
<text x="294.00" y="251.1" font-family="Liberation Serif, serif" stroke="#2a2a2a" stroke-width="0.16" font-size="10.2" fill="#262626" text-anchor="middle">10<tspan font-size="8.4" dy="-4.3">4</tspan></text>
<text x="378.50" y="251.1" font-family="Liberation Serif, serif" stroke="#2a2a2a" stroke-width="0.16" font-size="10.2" fill="#262626" text-anchor="middle">10<tspan font-size="8.4" dy="-4.3">6</tspan></text>
<text x="37.6" y="241.10" font-family="Liberation Serif, serif" stroke="#2a2a2a" stroke-width="0.16" font-size="10.2" fill="#262626" text-anchor="end">10<tspan font-size="8.4" dy="-4.3">-2</tspan></text>
<text x="37.6" y="203.60" font-family="Liberation Serif, serif" stroke="#2a2a2a" stroke-width="0.16" font-size="10.2" fill="#262626" text-anchor="end">10<tspan font-size="8.4" dy="-4.3">-1</tspan></text>
<text x="37.6" y="166.10" font-family="Liberation Serif, serif" stroke="#2a2a2a" stroke-width="0.16" font-size="10.2" fill="#262626" text-anchor="end">10<tspan font-size="8.4" dy="-4.3">0</tspan></text>
<text x="37.6" y="128.60" font-family="Liberation Serif, serif" stroke="#2a2a2a" stroke-width="0.16" font-size="10.2" fill="#262626" text-anchor="end">10<tspan font-size="8.4" dy="-4.3">1</tspan></text>
<text x="37.6" y="91.10" font-family="Liberation Serif, serif" stroke="#2a2a2a" stroke-width="0.16" font-size="10.2" fill="#262626" text-anchor="end">10<tspan font-size="8.4" dy="-4.3">2</tspan></text>
<text x="37.6" y="53.60" font-family="Liberation Serif, serif" stroke="#2a2a2a" stroke-width="0.16" font-size="10.2" fill="#262626" text-anchor="end">10<tspan font-size="8.4" dy="-4.3">3</tspan></text>
<text x="37.6" y="16.10" font-family="Liberation Serif, serif" stroke="#2a2a2a" stroke-width="0.16" font-size="10.2" fill="#262626" text-anchor="end">10<tspan font-size="8.4" dy="-4.3">4</tspan></text>
<text x="196" y="263" font-family="Liberation Serif, serif" stroke="#2a2a2a" stroke-width="0.16" font-size="10.6" fill="#262626" textLength="30" lengthAdjust="spacingAndGlyphs"><tspan font-style="italic">Re</tspan><tspan font-size="8" dy="4.8">p</tspan><tspan dy="-4.8"> [-]</tspan></text>
<text transform="translate(13.4,134.6) rotate(-90)" x="0" y="0" font-family="Liberation Serif, serif" stroke="#2a2a2a" stroke-width="0.16" font-size="10.6" fill="#262626" textLength="26.4" lengthAdjust="spacingAndGlyphs">C<tspan font-size="8" dy="4.8">d</tspan><tspan dy="-4.8"> [-]</tspan></text>
<rect x="160.5" y="269.5" width="7" height="1.2" fill="#ececec"/>
<rect x="390.5" y="97.5" width="155.0" height="52.0" fill="#fff" stroke="#b0b0b0" stroke-width="1"/>
<line x1="391.5" y1="102.50" x2="404" y2="102.50" stroke="#ec5a62" stroke-width="1.05" stroke-dasharray="2.3,2.7"/>
<text x="405" y="105.90" font-family="Liberation Serif, serif" stroke="#222" stroke-width="0.34" font-size="10.2" fill="#1e1e1e" textLength="55" lengthAdjust="spacingAndGlyphs">Clift et al. [78]</text>
<line x1="391.5" y1="112.90" x2="404" y2="112.90" stroke="#e477ec" stroke-width="1.0"/>
<text x="405" y="116.30" font-family="Liberation Serif, serif" stroke="#222" stroke-width="0.34" font-size="10.2" fill="#1e1e1e" textLength="139.5" lengthAdjust="spacingAndGlyphs">Haider and Levenspiel [80]:<tspan font-style="italic" font-size="12.6">φ</tspan>=0.66</text>
<line x1="391.5" y1="123.30" x2="404" y2="123.30" stroke="#7a7a7a" stroke-width="1.4"/>
<text x="405" y="126.70" font-family="Liberation Serif, serif" stroke="#222" stroke-width="0.34" font-size="10.2" fill="#1e1e1e" textLength="139.5" lengthAdjust="spacingAndGlyphs">Haider and Levenspiel [80]:<tspan font-style="italic" font-size="12.6">φ</tspan>=0.76</text>
<line x1="391.5" y1="133.70" x2="404" y2="133.70" stroke="#6068ec" stroke-width="1.2"/>
<text x="405" y="137.10" font-family="Liberation Serif, serif" stroke="#222" stroke-width="0.34" font-size="10.2" fill="#1e1e1e" textLength="139.5" lengthAdjust="spacingAndGlyphs">Haider and Levenspiel [80]:<tspan font-style="italic" font-size="12.6">φ</tspan>=0.86</text>
<line x1="391.5" y1="144.10" x2="404" y2="144.10" stroke="#6cbc6c" stroke-width="1.5"/>
<text x="405" y="147.50" font-family="Liberation Serif, serif" stroke="#222" stroke-width="0.34" font-size="10.2" fill="#1e1e1e" textLength="139.5" lengthAdjust="spacingAndGlyphs">Haider and Levenspiel [80]:<tspan font-style="italic" font-size="12.6">φ</tspan>=1.00</text></svg>
</body></html>
